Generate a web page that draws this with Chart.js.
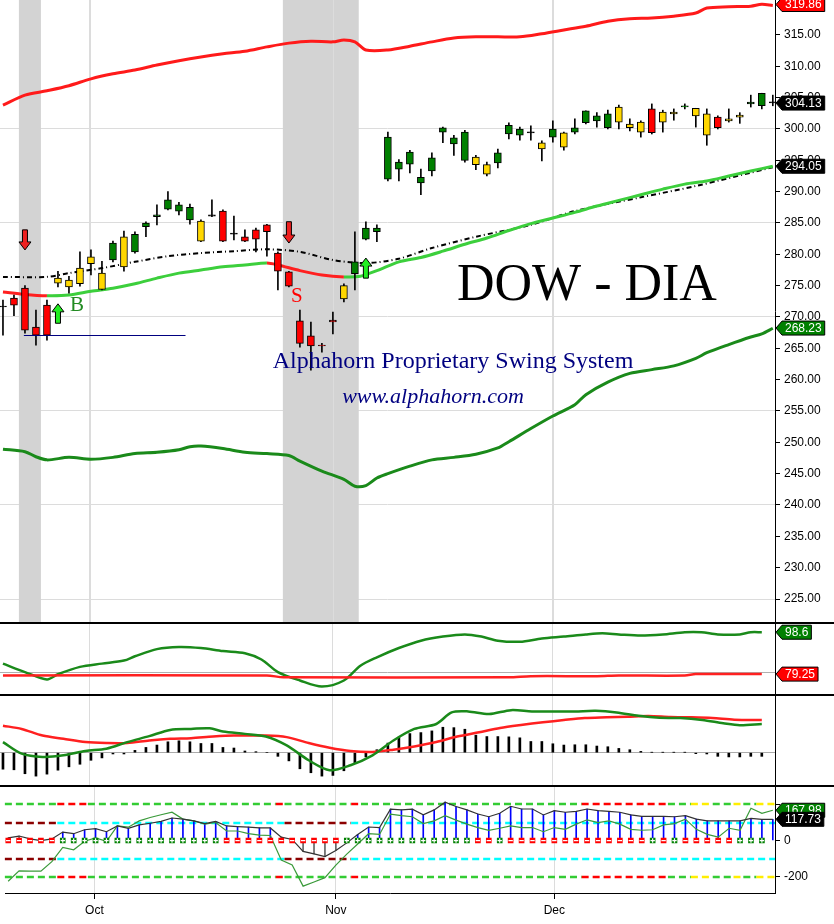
<!DOCTYPE html>
<html><head><meta charset="utf-8">
<script src="https://cdn.jsdelivr.net/npm/chart.js@4/dist/chart.umd.min.js"></script>
<style>
body{margin:0;background:#fff;width:834px;height:924px;overflow:hidden;position:relative;font-family:"Liberation Sans",Arial,sans-serif}
.p{position:absolute;left:0;width:834px}
.ln{position:absolute;left:0;width:834px;height:2px;background:#000}
</style></head><body>
<div class="p" style="top:0;height:622px"><canvas id="c1"></canvas></div>
<div class="p" style="top:624px;height:71px"><canvas id="c2"></canvas></div>
<div class="p" style="top:696px;height:90px"><canvas id="c3"></canvas></div>
<div class="p" style="top:780px;height:144px"><canvas id="c4"></canvas></div>
<div class="ln" style="top:622px"></div>
<div class="ln" style="top:694px"></div>
<div class="ln" style="top:785px"></div>
<script>
// ---------- DATA ----------
const highs=[272.7,273.5,275.0,271.1,272.7,277.3,276.5,280.4,280.7,278.9,282.1,283.7,283.6,285.2,287.9,290.0,288.3,288.0,285.5,288.7,287.1,286.1,283.9,284.2,284.8,280.4,277.3,271.1,269.2,265.8,270.8,275.3,283.6,285.2,284.7,299.5,295.1,296.6,293.6,296.2,300.3,299.0,299.8,295.8,294.7,296.8,301.0,300.3,300.5,298.1,301.3,299.5,301.6,302.9,302.6,303.0,303.8,301.6,301.3,304.0,303.0,303.2,304.0,303.3,303.2,302.1,303.2,302.6,305.4,305.7,305.4];
const bodyTops=[271.75,273.0,274.6,268.4,271.9,276.2,275.9,277.8,279.6,277.0,281.8,282.8,283.2,285.0,286.3,288.7,287.9,287.5,285.3,286.3,286.9,283.4,282.8,283.9,284.7,280.2,277.2,269.4,267.0,265.5,269.5,275.0,278.8,284.2,284.2,298.7,294.7,296.3,292.3,295.4,300.2,298.6,299.5,295.5,294.3,296.2,300.6,300.0,299.5,297.8,300.0,299.4,300.2,302.9,302.1,302.4,303.5,300.8,301.1,303.2,302.7,302.7,303.7,303.3,302.4,301.9,301.6,302.2,304.3,305.7,304.3];
const bodyBots=[271.6,271.9,267.9,267.1,267.1,275.4,274.8,275.3,278.5,274.4,279.1,278.0,280.4,284.4,286.0,287.2,286.9,285.5,282.1,286.1,282.1,283.2,282.1,282.4,283.6,277.3,274.9,265.8,265.4,265.4,269.2,272.9,276.9,282.4,283.6,292.0,293.6,294.4,291.4,293.3,299.5,297.6,295.0,294.3,292.8,294.6,299.2,299.0,299.4,296.8,298.7,297.1,299.5,301.0,301.3,300.2,301.1,300.2,299.5,299.4,301.1,302.4,303.5,302.1,299.0,300.2,301.3,301.9,304.0,303.7,304.2];
const lows=[267.1,270.2,267.4,265.5,266.3,274.8,273.8,274.9,276.7,274.3,278.8,277.3,280.2,282.8,284.7,287.1,286.3,284.8,282.0,286.0,282.0,282.3,282.0,280.4,279.7,274.3,274.8,265.2,261.5,264.4,267.3,272.4,274.3,282.3,282.0,291.7,291.7,293.0,289.5,292.5,297.8,295.8,294.7,293.5,292.5,293.8,298.4,298.2,298.2,294.9,297.9,296.6,299.2,300.8,300.3,300.0,300.0,299.7,298.7,299.2,299.5,301.4,303.2,300.3,297.4,300.0,301.1,300.9,303.5,303.2,303.7];
const candleKinds=["krrrr","yyyyy","gyggg","gggyk","rkrrr","rrrrr","ryggg","ggggg","gggyy","gggky","gyggg","gyyyr","yygyy","ryygg","k"].join('');
// bands: [index, value]
const upperBand=[[0,303.8],[2,305.4],[4,306.1],[6,306.9],[8,308.0],[10,308.8],[12,309.4],[14,310.2],[16,310.9],[18,311.5],[20,312.0],[22,312.4],[24,313.1],[26,313.7],[28,314.0],[30,313.9],[31,314.2],[32,313.9],[33,312.6],[35,312.6],[37,313.2],[39,313.9],[41,314.5],[43,314.7],[45,314.7],[47,314.7],[49,315.2],[51,315.8],[53,316.4],[55,317.2],[57,317.6],[59,317.7],[61,318.0],[63,318.5],[64,319.3],[66,319.5],[68,319.6],[69,319.9],[70,319.7]];
const lowerBand=[[0,248.9],[2,248.5],[3,247.7],[4,247.2],[6,247.6],[8,247.3],[10,247.6],[12,248.2],[14,248.4],[16,248.8],[17,249.3],[18,249.4],[20,249.0],[22,248.4],[24,248.2],[26,247.9],[27,247.0],[29,245.4],[31,244.1],[32,243.0],[33,243.1],[34,244.3],[35,245.0],[37,246.2],[39,247.2],[41,247.6],[43,248.1],[45,249.1],[46,250.1],[48,252.2],[50,254.2],[52,256.0],[53,257.6],[55,259.6],[57,261.0],[59,261.6],[61,262.2],[63,263.4],[64,264.3],[66,265.6],[68,266.8],[69,267.3],[70,268.2]];
const midLine=[[0,274.0],[2,273.6],[4,273.4],[6,273.5],[8,274.1],[10,274.6],[12,275.3],[14,276.2],[16,277.0],[18,277.5],[20,278.0],[22,278.3],[24,278.6],[25,278.3],[27,277.4],[29,276.7],[31,276.4],[32.5,276.5],[34,277.4],[36,278.8],[38,279.5],[40,280.5],[42,281.6],[44,282.6],[46,283.8],[48,284.9],[50,285.8],[52,286.7],[54,287.7],[56,288.6],[58,289.5],[60,290.4],[62,291.2],[64,291.7],[66,292.5],[68,293.3],[70,294.05]];
const midRedRanges=[[0,4],[24,31]];
const slowLine=[[0,276.4],[4,276.4],[6,277.0],[9,277.8],[12,278.8],[15,279.7],[18,280.2],[21,280.5],[24,280.8],[27,280.4],[30,279.1],[33,278.6],[36,279.3],[39,281.0],[43,282.8],[48,284.7],[52,286.9],[58,289.1],[63,290.9],[70,293.9]];
const shadeRanges=[[1.45,3.45],[25.45,32.35]];
const buyArrows=[[5,269.0,272.1],[33,276.2,279.4]];
const sellArrows=[[2,283.9,280.7],[26,285.2,281.8]];
const supportLine=[1.9,16.6,267.1];
const mainTags=[[319.86,'#ff0000'],[304.13,'#000'],[294.05,'#000'],[268.23,'#008000']];
// panel 2
const p2Green=[[0,84.1],[2,80.2],[4,76.8],[5,79.2],[7,82.6],[9,84.1],[11,85.5],[12,87.5],[14,90.8],[16,91.8],[18,91.3],[20,89.9],[22,88.9],[23.5,86.0],[25,80.2],[27,76.3],[29,73.5],[31,76.3],[32.5,83.1],[34,87.0],[36,91.3],[38,94.7],[40,96.6],[42,97.6],[43.5,96.6],[45,94.7],[47,94.2],[49,95.7],[51,96.6],[53,97.6],[54.5,98.1],[56,97.6],[58,97.1],[60,97.6],[62,98.6],[63.5,98.6],[65,97.6],[67,97.6],[68,98.6],[69,98.6]];
const p2Red=[[0,78.6],[24,78.6],[25.5,77.8],[46,77.8],[48,78.3],[54,78.3],[56,78.6],[62,78.6],[63,79.25],[69,79.25]];
const p2Tags=[[98.6,'#008000'],[79.25,'#ff0000']];
// panel 3
const hist=[-1.67,-1.73,-2.13,-2.37,-2.17,-1.77,-1.43,-1.17,-0.77,-0.53,-0.13,-0.13,0.23,0.53,0.77,1.1,1.2,1.1,0.93,0.93,0.53,0.47,0.17,0.1,0,-0.37,-0.83,-1.63,-2.03,-2.37,-2.3,-1.83,-1.1,-0.43,0.3,0.97,1.57,1.93,2.03,2.2,2.57,2.53,2.37,1.77,1.63,1.63,1.6,1.5,1.13,1.13,0.9,0.77,0.8,0.8,0.67,0.6,0.43,0.3,0.13,0.03,0.03,0.03,0.03,-0.1,-0.13,-0.37,-0.43,-0.43,-0.37,-0.37];
const p3Green=[[0,1.07],[1.7,-0.1],[3.6,-0.43],[5.5,-0.27],[7.5,0.17],[9.4,0.4],[11.3,1.07],[13.3,1.67],[15.2,2.3],[17.1,2.4],[18.8,2.47],[20,2.13],[22,1.9],[23.9,1.63],[25.8,0.73],[27.8,-0.77],[29.7,-1.77],[31.6,-1.27],[33.6,-0.27],[35.5,1.23],[37.4,2.4],[39.4,2.9],[40.8,4.07],[42.3,4.17],[44.2,3.9],[46.2,4.3],[48.1,4.17],[50,4.17],[52,4.17],[53.9,4.23],[55.8,4.07],[57.8,3.73],[59.7,3.53],[61.6,3.5],[63.6,3.3],[65.5,2.97],[67,2.77],[69,2.9]];
const p3Red=[[0,2.73],[1.7,2.4],[3.6,1.73],[5.5,1.4],[7.5,1.07],[9.4,0.97],[11.3,0.97],[13.3,1.23],[15.2,1.4],[17.1,1.47],[19.1,1.63],[21,1.73],[23.9,1.73],[25.8,1.57],[27.8,0.97],[29.7,0.5],[31.6,0.17],[33.6,0.07],[35.5,0.3],[37.4,0.63],[39.4,1.07],[41.3,1.63],[43.3,2.07],[45.2,2.5],[47.1,2.8],[49.1,3.07],[51,3.3],[52.9,3.5],[54.9,3.57],[56.8,3.63],[58.7,3.7],[60.7,3.6],[62.6,3.57],[64.5,3.5],[66.5,3.33],[69,3.3]];
// panel 4 (CCI)
const cciMain=[15,25,9,0,9,47,38,60,66,49,81,68,87,96,106,125,119,109,94,106,81,77,74,70,70,19,6,-60,-74,-89,-55,-13,34,75,72,174,170,174,143,170,213,189,170,147,132,151,190,175,175,142,166,157,162,175,166,162,157,142,134,134,134,132,138,119,109,109,109,109,123,117,117.73];
const cciFast=[-226,-168,-170,-170,-117,-38,-51,-4,15,-4,81,74,109,128,143,157,119,109,91,100,53,53,38,30,28,-108,-136,-253,-230,-206,-136,-75,-19,38,34,147,138,132,94,109,138,113,91,72,57,68,81,72,72,49,72,62,91,115,100,109,91,62,57,60,87,94,119,62,34,19,68,57,179,151,167.98];
const cciState="rrrrrgggggggggggggggrrrrrrrrrrrggggggggggggrrgrrrrrrrrrrrrrgrgrrrrrggg";
const band200=[[-0.3,4.5,'g'],[4.5,7.3,'r'],[7.3,24.5,'g'],[24.5,25.3,'r'],[25.3,31.4,'g'],[31.4,32.3,'r'],[32.3,52.5,'g'],[52.5,60.4,'r'],[60.4,62.5,'g'],[62.5,64.5,'y'],[64.5,66.4,'g'],[66.4,67.3,'y'],[67.3,68.5,'g'],[68.5,70.4,'y']];
const band100=[[-0.3,4.5,'d'],[4.5,25.3,'c'],[25.3,31.4,'d'],[31.4,70.4,'c']];
const p4Tags=[[167.98,'#008000'],[117.73,'#000']];
// x axis
const monthLabels=['Oct','Nov','Dec'];
const monthPos=[7.9,30,50];
const xMin=-0.27, xMax=70.2;

// ---------- HELPERS ----------
const FONT='"Liberation Sans", Arial, sans-serif';
const kindColor={g:'#008000',y:'#ffd700',r:'#ff0000',k:'#000'};
const pts=a=>a.map(([x,y])=>({x,y}));
function xScale(showLabels){
  return {type:'linear',min:xMin,max:xMax,offset:false,
    afterBuildTicks:s=>{s.ticks=monthPos.map(v=>({value:v}));},
    afterFit:s=>{s.height=showLabels?31:0;s.paddingLeft=0;s.paddingRight=0;},
    ticks:{display:showLabels,color:'#000',font:{family:FONT,size:12},padding:4,
      callback:(v)=>{const i=monthPos.indexOf(v);return i>=0?monthLabels[i]:'';},maxRotation:0,autoSkip:false},
    grid:{offset:false,color:'#dcdcdc',drawTicks:showLabels,tickLength:6,tickColor:'#000'},
    border:{display:showLabels,color:'#000',width:1}};
}
function yScale(min,max,extra){
  return Object.assign({type:'linear',position:'right',min,max,
    afterFit:s=>{s.width=59;s.paddingTop=0;s.paddingBottom=0;},
    border:{display:true,color:'#000',width:1}},extra);
}
function tag(ctx,x,y,text,bg){
  ctx.save();ctx.font='12px '+FONT;
  const w=ctx.measureText(text).width+6;
  ctx.beginPath();ctx.moveTo(x,y);ctx.lineTo(x+6,y-7);ctx.lineTo(x+6+w,y-7);ctx.lineTo(x+6+w,y+7);ctx.lineTo(x+6,y+7);ctx.closePath();
  ctx.fillStyle=bg;ctx.fill();ctx.strokeStyle='#000';ctx.lineWidth=1;ctx.stroke();
  ctx.fillStyle='#fff';ctx.textBaseline='middle';ctx.fillText(text,x+9,y+0.5);ctx.restore();
}
function tagsPlugin(list,fmt){
  return {id:'tags',afterDraw(c){const y=c.scales.y, x=c.chartArea.right+1;
    list.forEach(([v,col])=>tag(c.ctx,x,y.getPixelForValue(v),fmt?fmt(v):String(v),col));}};
}
const base={responsive:true,maintainAspectRatio:false,animation:false,events:[],
  layout:{padding:0},plugins:{legend:{display:false},tooltip:{enabled:false}}};

// ---------- MAIN ----------
const N=highs.length;
const wickData=[],bodyData=[],bodyColors=[];
for(let i=0;i<N;i++){
  wickData.push({x:i,y:[lows[i],highs[i]]});
  let t=bodyTops[i],b=bodyBots[i];
  if(t-b<0.15){t=(t+b)/2+0.075;b=t-0.15;}
  bodyData.push({x:i,y:[b,t]});
  bodyColors.push(kindColor[candleKinds[i]]);
}
function arrow(ctx,x,yTail,yTip,fill){
  const dir=yTip>yTail?1:-1, head=8*dir;
  ctx.beginPath();
  ctx.moveTo(x-2.5,yTail);ctx.lineTo(x+2.5,yTail);ctx.lineTo(x+2.5,yTip-head);ctx.lineTo(x+6,yTip-head);
  ctx.lineTo(x,yTip);ctx.lineTo(x-6,yTip-head);ctx.lineTo(x-2.5,yTip-head);ctx.closePath();
  ctx.fillStyle=fill;ctx.fill();ctx.strokeStyle='#000';ctx.lineWidth=1;ctx.stroke();
}
const mainPlugin={id:'mainDeco',
  beforeDatasetsDraw(c){const {ctx,chartArea:a,scales:{x}}=c;ctx.save();ctx.fillStyle='#d3d3d3';
    shadeRanges.forEach(([s,e])=>{const x0=x.getPixelForValue(s),x1=x.getPixelForValue(e);ctx.fillRect(x0,a.top,x1-x0,a.bottom-a.top);});
    ctx.restore();
    ctx.save();ctx.strokeStyle='#dcdcdc';ctx.lineWidth=1;
    monthPos.forEach(v=>{const px=Math.round(x.getPixelForValue(v))+0.5;ctx.beginPath();ctx.moveTo(px,a.top);ctx.lineTo(px,a.bottom);ctx.stroke();});
    ctx.restore();},
  afterDatasetsDraw(c){const {ctx,scales:{x,y}}=c;ctx.save();
    ctx.strokeStyle='#000080';ctx.lineWidth=1;ctx.beginPath();
    ctx.moveTo(x.getPixelForValue(supportLine[0]),Math.round(y.getPixelForValue(supportLine[2]))+0.5);
    ctx.lineTo(x.getPixelForValue(supportLine[1]),Math.round(y.getPixelForValue(supportLine[2]))+0.5);ctx.stroke();
    buyArrows.forEach(([i,t,h])=>arrow(ctx,x.getPixelForValue(i),y.getPixelForValue(t),y.getPixelForValue(h),'#22ee22'));
    sellArrows.forEach(([i,t,h])=>arrow(ctx,x.getPixelForValue(i),y.getPixelForValue(t),y.getPixelForValue(h),'#ee2020'));
    ctx.textBaseline='alphabetic';
    ctx.font='21px "Liberation Serif", serif';ctx.fillStyle='#228b22';ctx.fillText('B',70,311);
    ctx.fillStyle='#ff0000';ctx.fillText('S',291,302);
    ctx.fillStyle='#000';ctx.font='52px "Liberation Serif", serif';ctx.fillText('DOW - DIA',457,300);
    ctx.fillStyle='#000080';ctx.textAlign='center';ctx.font='24px "Liberation Serif", serif';
    ctx.fillText('Alphahorn Proprietary Swing System',453,368);
    ctx.font='italic 22px "Liberation Serif", serif';ctx.fillText('www.alphahorn.com',433,403);
    ctx.restore();}
};
new Chart(document.getElementById('c1'),{type:'bar',
  data:{datasets:[
    {type:'line',data:pts(upperBand),borderColor:'#ff1a1a',borderWidth:3,pointRadius:0,tension:0.3,order:3},
    {type:'line',data:pts(lowerBand),borderColor:'#1a8a1a',borderWidth:3,pointRadius:0,tension:0.3,order:3},
    {type:'line',data:pts(slowLine),borderColor:'#000',borderWidth:2,borderDash:[5,3,1,3],pointRadius:0,tension:0.3,order:4},
    {type:'line',data:pts(midLine),borderColor:'#3ccf3c',borderWidth:3,pointRadius:0,tension:0.3,order:2,
      segment:{borderColor:s=>midRedRanges.some(([a,b])=>s.p0.parsed.x>=a&&s.p0.parsed.x<b)?'#ff2020':'#3ccf3c'}},
    {data:wickData,backgroundColor:'#000',borderWidth:0,barThickness:1,grouped:false,order:1},
    {data:bodyData,backgroundColor:bodyColors,borderColor:'#000',borderWidth:1,borderSkipped:false,barThickness:7,grouped:false,order:0}
  ]},
  options:Object.assign({},base,{scales:{x:xScale(false),
    y:yScale(221.33,320.58,{afterBuildTicks:s=>{s.ticks=s.ticks.filter(t=>Math.abs(t.value%5)<1e-6);},
      ticks:{stepSize:5,color:'#000',font:{family:FONT,size:12},padding:4,callback:v=>v.toFixed(2)},
      grid:{color:c=>c.tick&&c.tick.value%15===0&&c.tick.value<315?'#dcdcdc':'rgba(0,0,0,0)',tickColor:'#000',tickLength:5}})}}),
  plugins:[mainPlugin,tagsPlugin(mainTags,v=>v.toFixed(2))]
});

// ---------- PANEL 2 ----------
new Chart(document.getElementById('c2'),{type:'line',
  data:{datasets:[
    {data:pts(p2Red),borderColor:'#ff2020',borderWidth:2.5,pointRadius:0,tension:0.3},
    {data:pts(p2Green),borderColor:'#1a8a1a',borderWidth:2.5,pointRadius:0,tension:0.3}]},
  options:Object.assign({},base,{scales:{x:xScale(false),
    y:yScale(69.6,102.4,{ticks:{display:false,stepSize:0.5},grid:{color:c=>c.tick&&c.tick.value===80?'#b0b0b0':'rgba(0,0,0,0)',drawTicks:false}})}}),
  plugins:[tagsPlugin(p2Tags)]
});

// ---------- PANEL 3 ----------
new Chart(document.getElementById('c3'),{type:'bar',
  data:{datasets:[
    {type:'line',data:pts(p3Red),borderColor:'#ff2020',borderWidth:2.5,pointRadius:0,tension:0.3,order:1},
    {type:'line',data:pts(p3Green),borderColor:'#1a8a1a',borderWidth:2.5,pointRadius:0,tension:0.3,order:0},
    {data:hist.map((v,i)=>({x:i,y:v})),backgroundColor:'#000',barThickness:2,grouped:false,order:2}]},
  options:Object.assign({},base,{scales:{x:xScale(false),
    y:yScale(-3.37,5.73,{ticks:{display:false,stepSize:1},grid:{color:c=>c.tick&&c.tick.value===0?'#aaaaaa':'rgba(0,0,0,0)',drawTicks:false}})}})
});

// ---------- PANEL 4 ----------
const bandColor={g:'#33cc33',r:'#ff0000',y:'#ffee00',d:'#8b0000',c:'#00ffff'};
const p4Plugin={id:'p4bands',beforeDatasetsDraw(c){const {ctx,scales:{x,y}}=c;ctx.save();ctx.lineWidth=2.5;ctx.setLineDash([7,4]);
  [[band200,200],[band200,-200],[band100,100],[band100,-100]].forEach(([segs,lv])=>{
    const py=Math.round(y.getPixelForValue(lv));
    segs.forEach(([s,e,k])=>{ctx.strokeStyle=bandColor[k];ctx.beginPath();ctx.moveTo(x.getPixelForValue(s),py);ctx.lineTo(Math.min(x.getPixelForValue(e),c.chartArea.right),py);ctx.stroke();});});
  ctx.restore();}};
const stateColor=cciState.split('').map(k=>k==='g'?'#008000':'#ff0000');
new Chart(document.getElementById('c4'),{type:'bar',
  data:{datasets:[
    {type:'line',data:cciFast.map((v,i)=>({x:i,y:v})),borderColor:'#3a9a3a',borderWidth:1.2,pointRadius:0,order:1},
    {type:'line',data:cciMain.map((v,i)=>({x:i,y:v})),borderColor:'#333',borderWidth:1.2,pointRadius:0,order:0},
    {data:cciMain.map((v,i)=>({x:i,y:[0,v]})),backgroundColor:cciMain.map(v=>v>30?'#0000ff':'#666'),barThickness:1,grouped:false,order:3},
    {type:'scatter',data:cciState.split('').map((k,i)=>({x:i,y:0})),pointStyle:'rect',pointRadius:4,backgroundColor:stateColor,borderColor:stateColor,borderWidth:0,order:-1},
    {type:'scatter',data:cciState.split('').map((k,i)=>({x:i,y:0})),pointStyle:cciState.split('').map(k=>k==='g'?'cross':'line'),pointRadius:2.2,borderColor:'#fff',borderWidth:1.2,order:-2}
  ]},
  options:Object.assign({},base,{scales:{x:xScale(true),
    y:yScale(-291,307,{afterBuildTicks:s=>{s.ticks=[{value:-200},{value:0},{value:200}];},
      ticks:{color:'#000',font:{family:FONT,size:12},padding:4,callback:v=>v===200?'':String(v)},
      grid:{color:'rgba(0,0,0,0)',tickColor:'#000',tickLength:5}})}}),
  plugins:[p4Plugin,tagsPlugin(p4Tags,v=>v.toFixed(2))]
});
</script></body></html>
